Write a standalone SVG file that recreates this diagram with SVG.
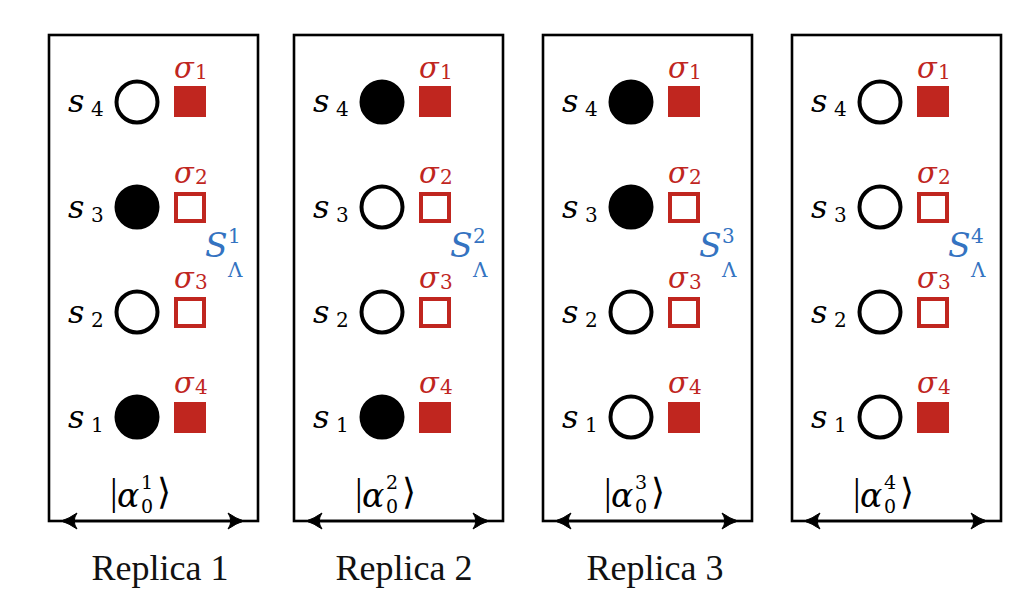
<svg xmlns="http://www.w3.org/2000/svg" width="1024" height="608" viewBox="0 0 1024 608">
<style>
.box{fill:none;stroke:#000;stroke-width:2.6}
.c{stroke:#000;stroke-width:4}
.co{fill:#fff}
.cf{fill:#000}
.sqf{fill:#c0261f}
.sqo{fill:none;stroke:#c0261f;stroke-width:4}
.m{font-family:"DejaVu Serif",serif}
.i{font-style:italic}
.bar{font-family:"Liberation Serif",serif;font-size:38px}
.k{font-family:"DejaVu Sans",sans-serif;font-weight:300;font-size:36px}
.red{fill:#c0261f}
.blue{fill:#3473c1}
.sl{font-size:32px}
.gl{font-size:29px}
.sub{font-size:20px;font-style:normal}
.ks{font-size:19px;font-style:normal}
.lab{font-family:"Liberation Serif","DejaVu Serif",serif;font-size:36px;text-anchor:middle;fill:#111}
.arr{fill:none;stroke:#000;stroke-width:2.4}
</style>
<defs>
<marker id="ah" viewBox="-16 -9 18 18" refX="0" refY="0" markerWidth="18" markerHeight="18" markerUnits="userSpaceOnUse" orient="auto-start-reverse">
<path d="M1.5,0 Q-6,-2.5 -14,-8 Q-8.5,0 -14,8 Q-6,2.5 1.5,0 Z" fill="#000" stroke="#000" stroke-width="1"/>
</marker>
</defs>
<rect width="1024" height="608" fill="#fff"/>

<!-- Replica 1 -->
<g id="replica1">
<rect class="box" x="49" y="35" width="209" height="486"/>
<g id="r1s4"><circle class="c co" cx="137" cy="102" r="20.5"/><text class="m sl"><tspan class="i" x="68" y="112">s</tspan><tspan class="sub" x="91" y="116">4</tspan></text>
<rect class="sqf" x="174" y="86" width="32" height="31"/><text class="m gl red"><tspan class="i" x="174" y="78">σ</tspan><tspan class="sub" x="195" y="79">1</tspan></text></g>
<g id="r1s3"><circle class="c cf" cx="137" cy="207" r="20.5"/><text class="m sl"><tspan class="i" x="68" y="218">s</tspan><tspan class="sub" x="91" y="222">3</tspan></text>
<rect class="sqo" x="176" y="194" width="28" height="27"/><text class="m gl red"><tspan class="i" x="174" y="183">σ</tspan><tspan class="sub" x="195" y="184">2</tspan></text></g>
<g id="r1s2"><circle class="c co" cx="137" cy="312" r="20.5"/><text class="m sl"><tspan class="i" x="68" y="323">s</tspan><tspan class="sub" x="91" y="327">2</tspan></text>
<rect class="sqo" x="176" y="299" width="28" height="27"/><text class="m gl red"><tspan class="i" x="174" y="288">σ</tspan><tspan class="sub" x="195" y="289">3</tspan></text></g>
<g id="r1s1"><circle class="c cf" cx="137" cy="417" r="20.5"/><text class="m sl"><tspan class="i" x="68" y="428">s</tspan><tspan class="sub" x="91" y="432">1</tspan></text>
<rect class="sqf" x="174" y="402" width="32" height="31"/><text class="m gl red"><tspan class="i" x="174" y="393">σ</tspan><tspan class="sub" x="195" y="394">4</tspan></text></g>
<g id="r1S"><text class="m blue" font-size="33"><tspan class="i" x="205" y="257">S</tspan><tspan class="sub" x="228" y="243">1</tspan><tspan class="sub" x="228" y="277">Λ</tspan></text></g>
<g id="r1ket"><text class="m"><tspan class="bar" x="110" y="505">|</tspan><tspan class="i" font-size="33" x="117" y="507">α</tspan><tspan class="ks" x="141" y="489">1</tspan><tspan class="ks" x="141" y="513">0</tspan><tspan class="k" x="157" y="504">⟩</tspan></text></g>
</g>

<!-- Replica 2 -->
<g id="replica2" transform="translate(245,0)">
<rect class="box" x="49" y="35" width="209" height="486"/>
<g id="r2s4"><circle class="c cf" cx="137" cy="102" r="20.5"/><text class="m sl"><tspan class="i" x="68" y="112">s</tspan><tspan class="sub" x="91" y="116">4</tspan></text>
<rect class="sqf" x="174" y="86" width="32" height="31"/><text class="m gl red"><tspan class="i" x="174" y="78">σ</tspan><tspan class="sub" x="195" y="79">1</tspan></text></g>
<g id="r2s3"><circle class="c co" cx="137" cy="207" r="20.5"/><text class="m sl"><tspan class="i" x="68" y="218">s</tspan><tspan class="sub" x="91" y="222">3</tspan></text>
<rect class="sqo" x="176" y="194" width="28" height="27"/><text class="m gl red"><tspan class="i" x="174" y="183">σ</tspan><tspan class="sub" x="195" y="184">2</tspan></text></g>
<g id="r2s2"><circle class="c co" cx="137" cy="312" r="20.5"/><text class="m sl"><tspan class="i" x="68" y="323">s</tspan><tspan class="sub" x="91" y="327">2</tspan></text>
<rect class="sqo" x="176" y="299" width="28" height="27"/><text class="m gl red"><tspan class="i" x="174" y="288">σ</tspan><tspan class="sub" x="195" y="289">3</tspan></text></g>
<g id="r2s1"><circle class="c cf" cx="137" cy="417" r="20.5"/><text class="m sl"><tspan class="i" x="68" y="428">s</tspan><tspan class="sub" x="91" y="432">1</tspan></text>
<rect class="sqf" x="174" y="402" width="32" height="31"/><text class="m gl red"><tspan class="i" x="174" y="393">σ</tspan><tspan class="sub" x="195" y="394">4</tspan></text></g>
<g id="r2S"><text class="m blue" font-size="33"><tspan class="i" x="205" y="257">S</tspan><tspan class="sub" x="228" y="243">2</tspan><tspan class="sub" x="228" y="277">Λ</tspan></text></g>
<g id="r2ket"><text class="m"><tspan class="bar" x="110" y="505">|</tspan><tspan class="i" font-size="33" x="117" y="507">α</tspan><tspan class="ks" x="141" y="489">2</tspan><tspan class="ks" x="141" y="513">0</tspan><tspan class="k" x="157" y="504">⟩</tspan></text></g>
</g>

<!-- Replica 3 -->
<g id="replica3" transform="translate(494,0)">
<rect class="box" x="49" y="35" width="209" height="486"/>
<g id="r3s4"><circle class="c cf" cx="137" cy="102" r="20.5"/><text class="m sl"><tspan class="i" x="68" y="112">s</tspan><tspan class="sub" x="91" y="116">4</tspan></text>
<rect class="sqf" x="174" y="86" width="32" height="31"/><text class="m gl red"><tspan class="i" x="174" y="78">σ</tspan><tspan class="sub" x="195" y="79">1</tspan></text></g>
<g id="r3s3"><circle class="c cf" cx="137" cy="207" r="20.5"/><text class="m sl"><tspan class="i" x="68" y="218">s</tspan><tspan class="sub" x="91" y="222">3</tspan></text>
<rect class="sqo" x="176" y="194" width="28" height="27"/><text class="m gl red"><tspan class="i" x="174" y="183">σ</tspan><tspan class="sub" x="195" y="184">2</tspan></text></g>
<g id="r3s2"><circle class="c co" cx="137" cy="312" r="20.5"/><text class="m sl"><tspan class="i" x="68" y="323">s</tspan><tspan class="sub" x="91" y="327">2</tspan></text>
<rect class="sqo" x="176" y="299" width="28" height="27"/><text class="m gl red"><tspan class="i" x="174" y="288">σ</tspan><tspan class="sub" x="195" y="289">3</tspan></text></g>
<g id="r3s1"><circle class="c co" cx="137" cy="417" r="20.5"/><text class="m sl"><tspan class="i" x="68" y="428">s</tspan><tspan class="sub" x="91" y="432">1</tspan></text>
<rect class="sqf" x="174" y="402" width="32" height="31"/><text class="m gl red"><tspan class="i" x="174" y="393">σ</tspan><tspan class="sub" x="195" y="394">4</tspan></text></g>
<g id="r3S"><text class="m blue" font-size="33"><tspan class="i" x="205" y="257">S</tspan><tspan class="sub" x="228" y="243">3</tspan><tspan class="sub" x="228" y="277">Λ</tspan></text></g>
<g id="r3ket"><text class="m"><tspan class="bar" x="110" y="505">|</tspan><tspan class="i" font-size="33" x="117" y="507">α</tspan><tspan class="ks" x="141" y="489">3</tspan><tspan class="ks" x="141" y="513">0</tspan><tspan class="k" x="157" y="504">⟩</tspan></text></g>
</g>

<!-- Replica 4 -->
<g id="replica4" transform="translate(743,0)">
<rect class="box" x="49" y="35" width="209" height="486"/>
<g id="r4s4"><circle class="c co" cx="137" cy="102" r="20.5"/><text class="m sl"><tspan class="i" x="68" y="112">s</tspan><tspan class="sub" x="91" y="116">4</tspan></text>
<rect class="sqf" x="174" y="86" width="32" height="31"/><text class="m gl red"><tspan class="i" x="174" y="78">σ</tspan><tspan class="sub" x="195" y="79">1</tspan></text></g>
<g id="r4s3"><circle class="c co" cx="137" cy="207" r="20.5"/><text class="m sl"><tspan class="i" x="68" y="218">s</tspan><tspan class="sub" x="91" y="222">3</tspan></text>
<rect class="sqo" x="176" y="194" width="28" height="27"/><text class="m gl red"><tspan class="i" x="174" y="183">σ</tspan><tspan class="sub" x="195" y="184">2</tspan></text></g>
<g id="r4s2"><circle class="c co" cx="137" cy="312" r="20.5"/><text class="m sl"><tspan class="i" x="68" y="323">s</tspan><tspan class="sub" x="91" y="327">2</tspan></text>
<rect class="sqo" x="176" y="299" width="28" height="27"/><text class="m gl red"><tspan class="i" x="174" y="288">σ</tspan><tspan class="sub" x="195" y="289">3</tspan></text></g>
<g id="r4s1"><circle class="c co" cx="137" cy="417" r="20.5"/><text class="m sl"><tspan class="i" x="68" y="428">s</tspan><tspan class="sub" x="91" y="432">1</tspan></text>
<rect class="sqf" x="174" y="402" width="32" height="31"/><text class="m gl red"><tspan class="i" x="174" y="393">σ</tspan><tspan class="sub" x="195" y="394">4</tspan></text></g>
<g id="r4S"><text class="m blue" font-size="33"><tspan class="i" x="205" y="257">S</tspan><tspan class="sub" x="228" y="243">4</tspan><tspan class="sub" x="228" y="277">Λ</tspan></text></g>
<g id="r4ket"><text class="m"><tspan class="bar" x="110" y="505">|</tspan><tspan class="i" font-size="33" x="117" y="507">α</tspan><tspan class="ks" x="141" y="489">4</tspan><tspan class="ks" x="141" y="513">0</tspan><tspan class="k" x="157" y="504">⟩</tspan></text></g>
</g>

<g id="connectors">
<path class="arr" d="M63,521 H242" marker-start="url(#ah)" marker-end="url(#ah)"/>
<path class="arr" d="M308,521 H487" marker-start="url(#ah)" marker-end="url(#ah)"/>
<path class="arr" d="M557,521 H736" marker-start="url(#ah)" marker-end="url(#ah)"/>
<path class="arr" d="M806,521 H985" marker-start="url(#ah)" marker-end="url(#ah)"/>
</g>

<g id="labels">
<text class="lab" x="160" y="580">Replica 1</text>
<text class="lab" x="404" y="580">Replica 2</text>
<text class="lab" x="655" y="580">Replica 3</text>
</g>
</svg>
